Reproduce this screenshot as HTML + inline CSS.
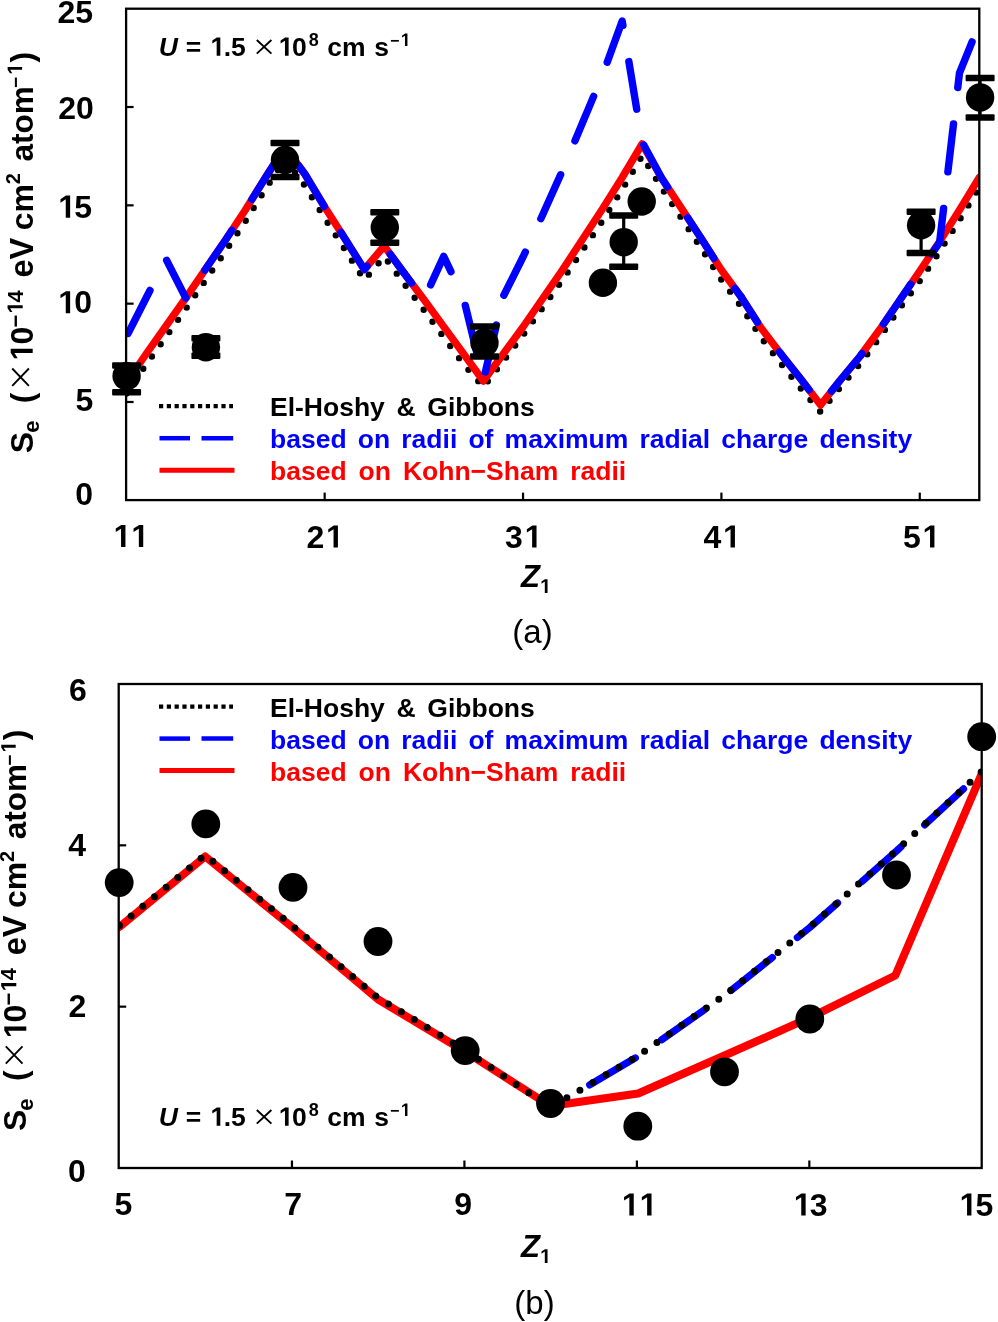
<!DOCTYPE html><html><head><meta charset="utf-8"><style>
html,body{margin:0;padding:0;background:#fff;width:998px;height:1322px;overflow:hidden}
svg{display:block;filter:blur(0.45px)} text{font-family:"Liberation Sans", sans-serif}
</style></head><body>
<svg width="998" height="1322" viewBox="0 0 998 1322">
<defs><clipPath id="clip8"><rect x="126.1" y="8.7" width="853.1999999999999" height="491.40000000000003"/></clipPath></defs>
<g clip-path="url(#clip8)">
<polyline points="126.3,393.5 146.1,364.6 166.0,336.8 185.8,308.9 205.6,280.1 225.5,251.2 245.3,221.4 265.2,189.5 285.0,159.0 304.8,185.6 324.7,218.2 344.5,248.9 364.3,280.0 384.2,256.5 404.0,283.5 423.9,310.0 443.7,337.1 463.5,364.2 483.4,387.0 523.0,335.3 562.7,279.6 602.4,221.0 622.2,189.5 642.1,156.0 661.9,188.5 681.7,218.5 701.6,248.9 721.4,279.8 741.2,306.7 761.1,337.6 780.9,363.6 800.8,388.5 820.6,412.0 840.4,387.2 860.3,363.5 880.1,336.8 899.9,308.0 919.8,281.0 939.6,251.5 959.5,220.0 979.3,187.5" fill="none" stroke="#000" stroke-width="6.4" stroke-dasharray="0 15" stroke-dashoffset="0" stroke-linecap="round" stroke-linejoin="round"/>
<polyline points="126.3,383.0 146.1,354.0 166.0,326.0 185.8,298.0 205.6,269.0 225.5,240.0 245.3,210.0 265.2,178.0 285.0,147.0 304.8,174.0 324.7,207.0 344.5,238.0 364.3,269.5 384.2,246.0 404.0,273.0 423.9,299.5 443.7,326.6 463.5,353.7 483.4,381.0 523.0,327.0 562.7,269.6 602.4,209.0 622.2,177.5 642.1,144.0 661.9,178.5 681.7,208.6 701.6,239.0 721.4,270.0 741.2,297.0 761.1,328.0 780.9,354.0 800.8,379.0 820.6,405.0 840.4,380.0 860.3,356.0 880.1,329.0 899.9,300.0 919.8,271.0 939.6,241.5 959.5,210.0 979.3,177.5" fill="none" stroke="#ff0000" stroke-width="7.4" stroke-linejoin="round" stroke-linecap="round"/>
<polyline points="126.3,337.0 146.1,298.0 166.0,259.0 185.8,298.0" fill="none" stroke="#0000ff" stroke-width="7.4" stroke-dasharray="48.2 36.8" stroke-dashoffset="81.00" stroke-linejoin="round" stroke-linecap="round"/><polyline points="185.8,298.0 205.6,269.0 225.5,240.0 245.3,210.0 265.2,178.0 285.0,147.0 304.8,174.0 324.7,207.0" fill="none" stroke="#0000ff" stroke-width="7.4" stroke-dasharray="48.2 36.8" stroke-dashoffset="51.27" stroke-linejoin="round" stroke-linecap="round"/><polyline points="324.7,207.0 344.5,238.0 364.3,269.5 384.2,246.0 404.0,273.0" fill="none" stroke="#0000ff" stroke-width="7.4" stroke-dasharray="48.2 36.8" stroke-dashoffset="54.96" stroke-linejoin="round" stroke-linecap="round"/><polyline points="404.0,273.0 423.9,299.5 443.7,256.4 463.5,298.0 483.4,380.0 503.2,296.5" fill="none" stroke="#0000ff" stroke-width="7.4" stroke-dasharray="48.2 36.8" stroke-dashoffset="35.75" stroke-linejoin="round" stroke-linecap="round"/><polyline points="503.2,296.5 523.0,257.0 542.9,214.3 562.7,170.0 582.6,122.6 602.4,75.5 622.2,21.0 642.1,142.0 661.9,178.5 681.7,208.6 701.6,239.0 721.4,270.0 741.2,297.0" fill="none" stroke="#0000ff" stroke-width="7.4" stroke-dasharray="48.2 36.8" stroke-dashoffset="83.57" stroke-linejoin="round" stroke-linecap="round"/><polyline points="741.2,297.0 761.1,328.0 780.9,354.0 800.8,379.0 820.6,405.0 840.4,380.0 860.3,356.0 880.1,329.0 899.9,300.0 919.8,271.0 939.6,242.5 959.5,72.8 979.3,24.0" fill="none" stroke="#0000ff" stroke-width="7.4" stroke-dasharray="48.2 36.8" stroke-dashoffset="18.20" stroke-linejoin="round" stroke-linecap="round"/>
</g>
<line x1="126.6" y1="365.6" x2="126.6" y2="392.2" stroke="#000" stroke-width="3.2"/>
<rect x="112.1" y="362.35" width="29" height="6.5" rx="1" fill="#000"/>
<rect x="112.1" y="388.95" width="29" height="6.5" rx="1" fill="#000"/>
<circle cx="126.6" cy="376.1" r="14.2" fill="#000"/>
<line x1="205.9" y1="338.2" x2="205.9" y2="355.8" stroke="#000" stroke-width="3.2"/>
<rect x="191.4" y="334.95" width="29" height="6.5" rx="1" fill="#000"/>
<rect x="191.4" y="352.55" width="29" height="6.5" rx="1" fill="#000"/>
<circle cx="205.9" cy="347.3" r="14.2" fill="#000"/>
<line x1="285" y1="143" x2="285" y2="177" stroke="#000" stroke-width="3.2"/>
<rect x="270.5" y="139.75" width="29" height="6.5" rx="1" fill="#000"/>
<rect x="270.5" y="173.75" width="29" height="6.5" rx="1" fill="#000"/>
<circle cx="285" cy="160" r="14.2" fill="#000"/>
<line x1="384.8" y1="212.2" x2="384.8" y2="242.8" stroke="#000" stroke-width="3.2"/>
<rect x="370.3" y="208.95" width="29" height="6.5" rx="1" fill="#000"/>
<rect x="370.3" y="239.55" width="29" height="6.5" rx="1" fill="#000"/>
<circle cx="384.8" cy="227.5" r="14.2" fill="#000"/>
<line x1="484.5" y1="326.5" x2="484.5" y2="356.6" stroke="#000" stroke-width="3.2"/>
<rect x="470.0" y="323.25" width="29" height="6.5" rx="1" fill="#000"/>
<rect x="470.0" y="353.35" width="29" height="6.5" rx="1" fill="#000"/>
<circle cx="484.5" cy="342.8" r="14.2" fill="#000"/>
<circle cx="602.9" cy="282.8" r="14.2" fill="#000"/>
<line x1="623.7" y1="215.6" x2="623.7" y2="266.7" stroke="#000" stroke-width="3.2"/>
<rect x="609.2" y="212.35" width="29" height="6.5" rx="1" fill="#000"/>
<rect x="609.2" y="263.45" width="29" height="6.5" rx="1" fill="#000"/>
<circle cx="623.7" cy="242.1" r="14.2" fill="#000"/>
<circle cx="641.7" cy="201.5" r="14.2" fill="#000"/>
<line x1="921.1" y1="211.7" x2="921.1" y2="252.9" stroke="#000" stroke-width="3.2"/>
<rect x="906.6" y="208.45" width="29" height="6.5" rx="1" fill="#000"/>
<rect x="906.6" y="249.65" width="29" height="6.5" rx="1" fill="#000"/>
<circle cx="921.1" cy="225.2" r="14.2" fill="#000"/>
<line x1="980.1" y1="78" x2="980.1" y2="117.5" stroke="#000" stroke-width="3.2"/>
<rect x="965.6" y="74.75" width="29" height="6.5" rx="1" fill="#000"/>
<rect x="965.6" y="114.25" width="29" height="6.5" rx="1" fill="#000"/>
<circle cx="980.1" cy="97.4" r="14.2" fill="#000"/>
<rect x="126.1" y="8.7" width="853.1999999999999" height="491.40000000000003" fill="none" stroke="#000" stroke-width="2.3"/>
<line x1="324.67" y1="500.1" x2="324.67" y2="492.6" stroke="#000" stroke-width="2.2"/>
<line x1="523.04" y1="500.1" x2="523.04" y2="492.6" stroke="#000" stroke-width="2.2"/>
<line x1="721.41" y1="500.1" x2="721.41" y2="492.6" stroke="#000" stroke-width="2.2"/>
<line x1="919.78" y1="500.1" x2="919.78" y2="492.6" stroke="#000" stroke-width="2.2"/>
<line x1="126.1" y1="401.98" x2="133.6" y2="401.98" stroke="#000" stroke-width="2.2"/>
<line x1="126.1" y1="303.65999999999997" x2="133.6" y2="303.65999999999997" stroke="#000" stroke-width="2.2"/>
<line x1="126.1" y1="205.33999999999997" x2="133.6" y2="205.33999999999997" stroke="#000" stroke-width="2.2"/>
<line x1="126.1" y1="107.01999999999998" x2="133.6" y2="107.01999999999998" stroke="#000" stroke-width="2.2"/>
<defs><clipPath id="clip684"><rect x="118.7" y="684" width="863.0" height="484"/></clipPath></defs>
<g clip-path="url(#clip684)">
<polyline points="550.5,1108.0 637.8,1056.5 724.5,995.7 809.8,927.5 896.5,851.0 981.7,772.0" fill="none" stroke="#0000ff" stroke-width="7.2" stroke-dasharray="53 32" stroke-dashoffset="39.50" stroke-linejoin="round" stroke-linecap="round"/>
<polyline points="119.5,927.0 205.2,856.5 292.0,927.0 378.2,999.5 465.0,1051.5 550.5,1106.0 638.2,1093.5 724.5,1055.5 809.8,1017.7 895.3,975.5 981.7,773.8" fill="none" stroke="#ff0000" stroke-width="8" stroke-linejoin="round" stroke-linecap="round"/>
<polyline points="119.5,925.5 205.2,855.0 292.0,925.5 378.2,998.0 465.0,1050.0 550.5,1107.5 637.8,1056.0 724.5,995.2 809.8,927.0 896.5,850.5 981.7,771.5" fill="none" stroke="#000" stroke-width="7" stroke-dasharray="0 15.1" stroke-dashoffset="0" stroke-linecap="round" stroke-linejoin="round"/>
</g>
<circle cx="119.2" cy="882.6" r="14.4" fill="#000"/>
<circle cx="205.8" cy="823.9" r="14.4" fill="#000"/>
<circle cx="293" cy="887.4" r="14.4" fill="#000"/>
<circle cx="378" cy="941.5" r="14.4" fill="#000"/>
<circle cx="465.2" cy="1050.6" r="14.4" fill="#000"/>
<circle cx="550.5" cy="1103.5" r="14.4" fill="#000"/>
<circle cx="637.8" cy="1126.2" r="14.4" fill="#000"/>
<circle cx="724.5" cy="1071.8" r="14.4" fill="#000"/>
<circle cx="809.8" cy="1019" r="14.4" fill="#000"/>
<circle cx="896.5" cy="875" r="14.4" fill="#000"/>
<circle cx="981.7" cy="736.7" r="14.4" fill="#000"/>
<rect x="118.7" y="684" width="863.0" height="484" fill="none" stroke="#000" stroke-width="2.3"/>
<line x1="291.96000000000004" y1="1168" x2="291.96000000000004" y2="1160.5" stroke="#000" stroke-width="2.2"/>
<line x1="464.42" y1="1168" x2="464.42" y2="1160.5" stroke="#000" stroke-width="2.2"/>
<line x1="636.88" y1="1168" x2="636.88" y2="1160.5" stroke="#000" stroke-width="2.2"/>
<line x1="809.34" y1="1168" x2="809.34" y2="1160.5" stroke="#000" stroke-width="2.2"/>
<line x1="118.7" y1="1006.66" x2="126.2" y2="1006.66" stroke="#000" stroke-width="2.2"/>
<line x1="118.7" y1="845.3199999999999" x2="126.2" y2="845.3199999999999" stroke="#000" stroke-width="2.2"/>
<line x1="159" y1="406.2" x2="233" y2="406.2" stroke="#000" stroke-width="4.2" stroke-dasharray="4.2 3.6"/>
<line x1="159.5" y1="438.2" x2="190" y2="438.2" stroke="#0000ff" stroke-width="4.5"/>
<line x1="201.5" y1="438.2" x2="233.2" y2="438.2" stroke="#0000ff" stroke-width="4.5"/>
<line x1="159.5" y1="470.2" x2="234.5" y2="470.2" stroke="#ff0000" stroke-width="5"/>
<text x="270" y="415.7" font-size="26.5" font-weight="bold" fill="#000" word-spacing="4.3">El-Hoshy &amp; Gibbons</text>
<text x="270" y="447.7" font-size="26.5" font-weight="bold" fill="#0000ff" word-spacing="3.8">based on radii of maximum radial charge density</text>
<text x="270" y="479.7" font-size="26.5" font-weight="bold" fill="#ff0000" word-spacing="4.6">based on Kohn−Sham radii</text>
<line x1="159" y1="706.6" x2="233" y2="706.6" stroke="#000" stroke-width="4.2" stroke-dasharray="4.2 3.6"/>
<line x1="159.5" y1="738.6" x2="190" y2="738.6" stroke="#0000ff" stroke-width="4.5"/>
<line x1="201.5" y1="738.6" x2="233.2" y2="738.6" stroke="#0000ff" stroke-width="4.5"/>
<line x1="159.5" y1="770.6" x2="234.5" y2="770.6" stroke="#ff0000" stroke-width="5"/>
<text x="270" y="716.6" font-size="26.5" font-weight="bold" fill="#000" word-spacing="4.3">El-Hoshy &amp; Gibbons</text>
<text x="270" y="748.6" font-size="26.5" font-weight="bold" fill="#0000ff" word-spacing="3.8">based on radii of maximum radial charge density</text>
<text x="270" y="780.6" font-size="26.5" font-weight="bold" fill="#ff0000" word-spacing="4.6">based on Kohn−Sham radii</text>
<text x="158.66" y="55.80" font-size="26.5" font-weight="bold" font-style="italic" fill="#000" >U</text>
<text x="185.80" y="55.80" font-size="26.5" font-weight="bold" font-style="normal" fill="#000" >=</text>
<text x="223.67" y="55.80" font-size="26.5" font-weight="bold" font-style="normal" fill="#000">.5</text>
<path d="M216.67,55.80 L216.67,40.66 L212.30,43.39 L212.30,40.53 L216.87,37.57 L220.31,37.57 L220.31,55.80 Z" fill="#000"/>
<path d="M256.8,40 L271.4,53.6 M256.8,53.6 L271.4,40" stroke="#000" stroke-width="1.9" fill="none"/>
<text x="291.97" y="55.80" font-size="26.5" font-weight="bold" font-style="normal" fill="#000">0</text>
<path d="M284.97,55.80 L284.97,40.66 L280.60,43.39 L280.60,40.53 L285.17,37.57 L288.61,37.57 L288.61,55.80 Z" fill="#000"/>
<text x="308.83" y="46.00" font-size="18" font-weight="bold" font-style="normal" fill="#000" >8</text>
<text x="327.26" y="55.80" font-size="26.5" font-weight="bold" font-style="normal" fill="#000" >cm</text>
<text x="374.37" y="55.80" font-size="26.5" font-weight="bold" font-style="normal" fill="#000" >s</text>
<text x="390.04" y="46.00" font-size="16" font-weight="bold" font-style="normal" fill="#000" >−</text>
<path d="M404.97,46.00 L404.97,35.72 L402.00,37.57 L402.00,35.63 L405.10,33.62 L407.44,33.62 L407.44,46.00 Z" fill="#000"/>
<text x="158.66" y="1125.80" font-size="26.5" font-weight="bold" font-style="italic" fill="#000" >U</text>
<text x="185.80" y="1125.80" font-size="26.5" font-weight="bold" font-style="normal" fill="#000" >=</text>
<text x="223.67" y="1125.80" font-size="26.5" font-weight="bold" font-style="normal" fill="#000">.5</text>
<path d="M216.67,1125.80 L216.67,1110.66 L212.30,1113.39 L212.30,1110.53 L216.87,1107.57 L220.31,1107.57 L220.31,1125.80 Z" fill="#000"/>
<path d="M256.8,1110 L271.4,1123.6 M256.8,1123.6 L271.4,1110" stroke="#000" stroke-width="1.9" fill="none"/>
<text x="291.97" y="1125.80" font-size="26.5" font-weight="bold" font-style="normal" fill="#000">0</text>
<path d="M284.97,1125.80 L284.97,1110.66 L280.60,1113.39 L280.60,1110.53 L285.17,1107.57 L288.61,1107.57 L288.61,1125.80 Z" fill="#000"/>
<text x="308.83" y="1116.00" font-size="18" font-weight="bold" font-style="normal" fill="#000" >8</text>
<text x="327.26" y="1125.80" font-size="26.5" font-weight="bold" font-style="normal" fill="#000" >cm</text>
<text x="374.37" y="1125.80" font-size="26.5" font-weight="bold" font-style="normal" fill="#000" >s</text>
<text x="390.04" y="1116.00" font-size="16" font-weight="bold" font-style="normal" fill="#000" >−</text>
<path d="M404.97,1116.00 L404.97,1105.72 L402.00,1107.57 L402.00,1105.63 L405.10,1103.62 L407.44,1103.62 L407.44,1116.00 Z" fill="#000"/>
<text x="75.30" y="23.38" font-size="32" font-weight="bold" text-anchor="middle" >25</text>
<text x="76.00" y="119.00" font-size="32" font-weight="bold" text-anchor="middle" >20</text>
<text x="74.20" y="217.63" font-size="32" font-weight="bold" >5</text>
<path d="M65.75,217.63 L65.75,199.34 L60.47,202.64 L60.47,199.19 L65.98,195.61 L70.14,195.61 L70.14,217.63 Z" fill="#000"/>
<text x="74.20" y="313.15" font-size="32" font-weight="bold" >0</text>
<path d="M65.75,313.15 L65.75,294.87 L60.47,298.17 L60.47,294.71 L65.98,291.13 L70.14,291.13 L70.14,313.15 Z" fill="#000"/>
<text x="84.50" y="411.25" font-size="32" font-weight="bold" text-anchor="middle" >5</text>
<text x="84.20" y="504.50" font-size="32" font-weight="bold" text-anchor="middle" >0</text>
<text x="77.90" y="701.45" font-size="32" font-weight="bold" text-anchor="middle" >6</text>
<text x="77.10" y="856.00" font-size="32" font-weight="bold" text-anchor="middle" >4</text>
<text x="77.50" y="1016.75" font-size="32" font-weight="bold" text-anchor="middle" >2</text>
<text x="77.00" y="1182.00" font-size="32" font-weight="bold" text-anchor="middle" >0</text>
<path d="M121.05,547.00 L121.05,528.72 L115.77,532.02 L115.77,528.56 L121.28,524.98 L125.44,524.98 L125.44,547.00 Z M138.84,547.00 L138.84,528.72 L133.56,532.02 L133.56,528.56 L139.08,524.98 L143.23,524.98 L143.23,547.00 Z" fill="#000"/>
<text x="306.40" y="547.60" font-size="32" font-weight="bold" >2</text>
<path d="M333.54,547.60 L333.54,529.32 L328.26,532.62 L328.26,529.16 L333.78,525.58 L337.93,525.58 L337.93,547.60 Z" fill="#000"/>
<text x="505.00" y="547.60" font-size="32" font-weight="bold" >3</text>
<path d="M532.14,547.60 L532.14,529.32 L526.86,532.62 L526.86,529.16 L532.38,525.58 L536.53,525.58 L536.53,547.60 Z" fill="#000"/>
<text x="703.40" y="547.60" font-size="32" font-weight="bold" >4</text>
<path d="M730.54,547.60 L730.54,529.32 L725.26,532.62 L725.26,529.16 L730.78,525.58 L734.93,525.58 L734.93,547.60 Z" fill="#000"/>
<text x="902.90" y="547.60" font-size="32" font-weight="bold" >5</text>
<path d="M930.04,547.60 L930.04,529.32 L924.76,532.62 L924.76,529.16 L930.28,525.58 L934.43,525.58 L934.43,547.60 Z" fill="#000"/>
<text x="123.40" y="1214.85" font-size="32" font-weight="bold" text-anchor="middle" >5</text>
<text x="293.10" y="1215.00" font-size="32" font-weight="bold" text-anchor="middle" >7</text>
<text x="463.20" y="1215.00" font-size="32" font-weight="bold" text-anchor="middle" >9</text>
<path d="M629.35,1215.50 L629.35,1197.22 L624.07,1200.52 L624.07,1197.06 L629.58,1193.48 L633.74,1193.48 L633.74,1215.50 Z M647.14,1215.50 L647.14,1197.22 L641.86,1200.52 L641.86,1197.06 L647.38,1193.48 L651.53,1193.48 L651.53,1215.50 Z" fill="#000"/>
<text x="809.70" y="1215.50" font-size="32" font-weight="bold" >3</text>
<path d="M801.25,1215.50 L801.25,1197.22 L795.97,1200.52 L795.97,1197.06 L801.48,1193.48 L805.64,1193.48 L805.64,1215.50 Z" fill="#000"/>
<text x="975.50" y="1215.50" font-size="32" font-weight="bold" >5</text>
<path d="M967.05,1215.50 L967.05,1197.22 L961.77,1200.52 L961.77,1197.06 L967.28,1193.48 L971.44,1193.48 L971.44,1215.50 Z" fill="#000"/>
<text x="521" y="587" font-size="31" font-weight="bold" font-style="italic">Z</text>
<path d="M544.80,593.00 L544.80,581.57 L541.50,583.63 L541.50,581.48 L544.95,579.24 L547.54,579.24 L547.54,593.00 Z" fill="#000"/>
<text x="521" y="1257" font-size="31" font-weight="bold" font-style="italic">Z</text>
<path d="M544.80,1263.00 L544.80,1251.57 L541.50,1253.63 L541.50,1251.48 L544.95,1249.24 L547.54,1249.24 L547.54,1263.00 Z" fill="#000"/>
<text x="532.5" y="643" font-size="33" text-anchor="middle">(a)</text>
<text x="534.5" y="1314" font-size="33" text-anchor="middle">(b)</text>
<text transform="translate(32.7,452.3) rotate(-90)" x="-0.92" y="0.00" font-size="32" font-weight="bold" font-style="normal" fill="#000">S</text>
<text transform="translate(32.7,452.3) rotate(-90)" x="19.44" y="6.30" font-size="22" font-weight="bold" font-style="normal" fill="#000">e</text>
<text transform="translate(32.7,452.3) rotate(-90)" x="49.01" y="0.00" font-size="32" font-weight="bold" font-style="normal" fill="#000">(</text>
<path d="M12.200000000000003,385.8 L28.900000000000002,368.5 M28.900000000000002,385.8 L12.200000000000003,368.5" stroke="#000" stroke-width="1.9" fill="none"/>
<text transform="translate(32.7,452.3) rotate(-90)" x="107.73" y="0.00" font-size="32" font-weight="bold" font-style="normal" fill="#000">0</text>
<path transform="translate(32.7,452.3) rotate(-90)" d="M99.28,0.00 L99.28,-18.28 L94.00,-14.98 L94.00,-18.44 L99.52,-22.02 L103.67,-22.02 L103.67,0.00 Z" fill="#000"/>
<text transform="translate(32.7,452.3) rotate(-90)" x="124.69" y="-10.00" font-size="22" font-weight="bold" font-style="normal" fill="#000">−</text>
<text transform="translate(32.7,452.3) rotate(-90)" x="149.77" y="-10.00" font-size="22" font-weight="bold" font-style="normal" fill="#000">4</text>
<path transform="translate(32.7,452.3) rotate(-90)" d="M143.96,-10.00 L143.96,-22.57 L140.33,-20.30 L140.33,-22.68 L144.12,-25.14 L146.98,-25.14 L146.98,-10.00 Z" fill="#000"/>
<text transform="translate(32.7,452.3) rotate(-90)" x="174.83" y="0.00" font-size="32.5" font-weight="bold" font-style="normal" fill="#000">eV</text>
<text transform="translate(32.7,452.3) rotate(-90)" x="222.05" y="0.00" font-size="32" font-weight="bold" font-style="normal" fill="#000">cm</text>
<text transform="translate(32.7,452.3) rotate(-90)" x="268.01" y="-12.30" font-size="20" font-weight="bold" font-style="normal" fill="#000">2</text>
<text transform="translate(32.7,452.3) rotate(-90)" x="290.88" y="0.00" font-size="31.5" font-weight="bold" font-style="normal" fill="#000">atom</text>
<text transform="translate(32.7,452.3) rotate(-90)" x="364.41" y="-10.60" font-size="19" font-weight="bold" font-style="normal" fill="#000">−</text>
<path transform="translate(32.7,452.3) rotate(-90)" d="M382.47,-10.60 L382.47,-22.60 L379.00,-20.43 L379.00,-22.70 L382.62,-25.05 L385.35,-25.05 L385.35,-10.60 Z" fill="#000"/>
<text transform="translate(32.7,452.3) rotate(-90)" x="389.87" y="0.00" font-size="32" font-weight="bold" font-style="normal" fill="#000">)</text>
<text transform="translate(26.3,1130.1) rotate(-90)" x="-0.92" y="0.00" font-size="32" font-weight="bold" font-style="normal" fill="#000">S</text>
<text transform="translate(26.3,1130.1) rotate(-90)" x="19.44" y="6.30" font-size="22" font-weight="bold" font-style="normal" fill="#000">e</text>
<text transform="translate(26.3,1130.1) rotate(-90)" x="49.01" y="0.00" font-size="32" font-weight="bold" font-style="normal" fill="#000">(</text>
<path d="M5.800000000000001,1063.6 L22.5,1046.3 M22.5,1063.6 L5.800000000000001,1046.3" stroke="#000" stroke-width="1.9" fill="none"/>
<text transform="translate(26.3,1130.1) rotate(-90)" x="107.73" y="0.00" font-size="32" font-weight="bold" font-style="normal" fill="#000">0</text>
<path transform="translate(26.3,1130.1) rotate(-90)" d="M99.28,0.00 L99.28,-18.28 L94.00,-14.98 L94.00,-18.44 L99.52,-22.02 L103.67,-22.02 L103.67,0.00 Z" fill="#000"/>
<text transform="translate(26.3,1130.1) rotate(-90)" x="124.69" y="-10.00" font-size="22" font-weight="bold" font-style="normal" fill="#000">−</text>
<text transform="translate(26.3,1130.1) rotate(-90)" x="149.77" y="-10.00" font-size="22" font-weight="bold" font-style="normal" fill="#000">4</text>
<path transform="translate(26.3,1130.1) rotate(-90)" d="M143.96,-10.00 L143.96,-22.57 L140.33,-20.30 L140.33,-22.68 L144.12,-25.14 L146.98,-25.14 L146.98,-10.00 Z" fill="#000"/>
<text transform="translate(26.3,1130.1) rotate(-90)" x="174.83" y="0.00" font-size="32.5" font-weight="bold" font-style="normal" fill="#000">eV</text>
<text transform="translate(26.3,1130.1) rotate(-90)" x="222.05" y="0.00" font-size="32" font-weight="bold" font-style="normal" fill="#000">cm</text>
<text transform="translate(26.3,1130.1) rotate(-90)" x="268.01" y="-12.30" font-size="20" font-weight="bold" font-style="normal" fill="#000">2</text>
<text transform="translate(26.3,1130.1) rotate(-90)" x="290.88" y="0.00" font-size="31.5" font-weight="bold" font-style="normal" fill="#000">atom</text>
<text transform="translate(26.3,1130.1) rotate(-90)" x="364.41" y="-10.60" font-size="19" font-weight="bold" font-style="normal" fill="#000">−</text>
<path transform="translate(26.3,1130.1) rotate(-90)" d="M382.47,-10.60 L382.47,-22.60 L379.00,-20.43 L379.00,-22.70 L382.62,-25.05 L385.35,-25.05 L385.35,-10.60 Z" fill="#000"/>
<text transform="translate(26.3,1130.1) rotate(-90)" x="389.87" y="0.00" font-size="32" font-weight="bold" font-style="normal" fill="#000">)</text>
</svg></body></html>
